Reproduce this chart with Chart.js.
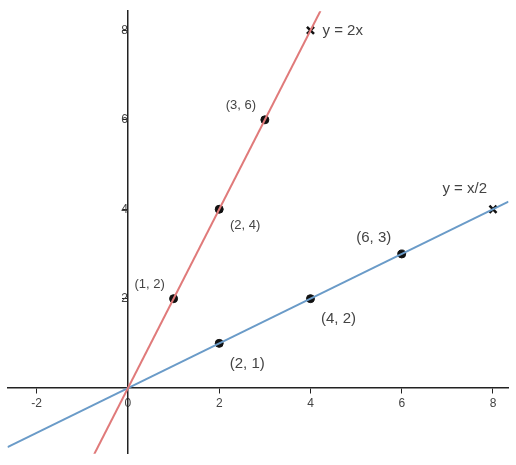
<!DOCTYPE html>
<html><head><style>html,body{margin:0;padding:0;background:#fff}#w{width:516px;height:465px}</style>
<script src="https://cdn.jsdelivr.net/npm/chart.js@4"></script></head>
<body><div id="w"><canvas id="c"></canvas></div>
<script>
const redLine=[{x:-0.74,y:-1.48},{x:4.22,y:8.44}];
const blueLine=[{x:-2.64,y:-1.32},{x:8.34,y:4.17}];
const redPoints=[{x:1,y:2},{x:2,y:4},{x:3,y:6}];
const bluePoints=[{x:2,y:1},{x:4,y:2},{x:6,y:3}];
const redEnd=[{x:4,y:8}], blueEnd=[{x:8,y:4}];
const pointLabels=[
 {x:1,y:2,t:'(1, 2)',dx:-24,dy:-14,s:13},
 {x:2,y:4,t:'(2, 4)',dx:26,dy:16,s:13},
 {x:3,y:6,t:'(3, 6)',dx:-24,dy:-14,s:13},
 {x:2,y:1,t:'(2, 1)',dx:28,dy:20,s:15},
 {x:4,y:2,t:'(4, 2)',dx:28,dy:20,s:15},
 {x:6,y:3,t:'(6, 3)',dx:-28,dy:-16,s:15},
 {x:4,y:8,t:'y = 2x',dx:12,dy:0,s:15,a:'left'},
 {x:8,y:4,t:'y = x/2',dx:-6,dy:-20,s:15,a:'right'}];
const xTicks=[-2,0,2,4,6,8], yTicks=[2,4,6,8];
const labelPlugin={id:'lbl',afterDatasetsDraw(ch){const c=ch.ctx,xs=ch.scales.x,ys=ch.scales.y;c.save();c.fillStyle='#444';c.textBaseline='middle';
 pointLabels.forEach(p=>{c.font=p.s+'px "Liberation Sans",Arial';c.textAlign=p.a||'center';c.fillText(p.t,xs.getPixelForValue(p.x)+p.dx,ys.getPixelForValue(p.y)+p.dy);});c.restore();}};
const tick={grid:{drawOnChartArea:false,drawTicks:true,tickLength:5,color:'#222'},border:{color:'#222',width:1.5}};
new Chart(document.getElementById('c'),{type:'scatter',data:{datasets:[
 {data:redLine,showLine:true,borderColor:'#e07a7a',borderWidth:2,pointRadius:0},
 {data:blueLine,showLine:true,borderColor:'#6a9bc8',borderWidth:2,pointRadius:0},
 {data:redPoints.concat(bluePoints),pointRadius:4,backgroundColor:'#111',borderColor:'#111'},
 {data:redEnd.concat(blueEnd),pointStyle:'cross',rotation:45,pointRadius:5,borderWidth:2.5,borderColor:'#111'}]},
 options:{animation:false,responsive:true,maintainAspectRatio:false,layout:{padding:{left:-8,right:-8,top:-8,bottom:-9}},
 plugins:{legend:{display:false},tooltip:{enabled:false}},
 scales:{x:{type:'linear',position:{y:0},min:-2.64,max:8.34,afterBuildTicks(s){s.ticks=xTicks.map(v=>({value:v}));},
   ticks:{color:'#444',font:{size:12},padding:3},...tick},
  y:{type:'linear',position:{x:0},min:-1.47,max:8.43,afterBuildTicks(s){s.ticks=yTicks.map(v=>({value:v}));},
   ticks:{color:'#444',font:{size:12},padding:4},...tick}}},plugins:[labelPlugin]});
</script></body></html>
